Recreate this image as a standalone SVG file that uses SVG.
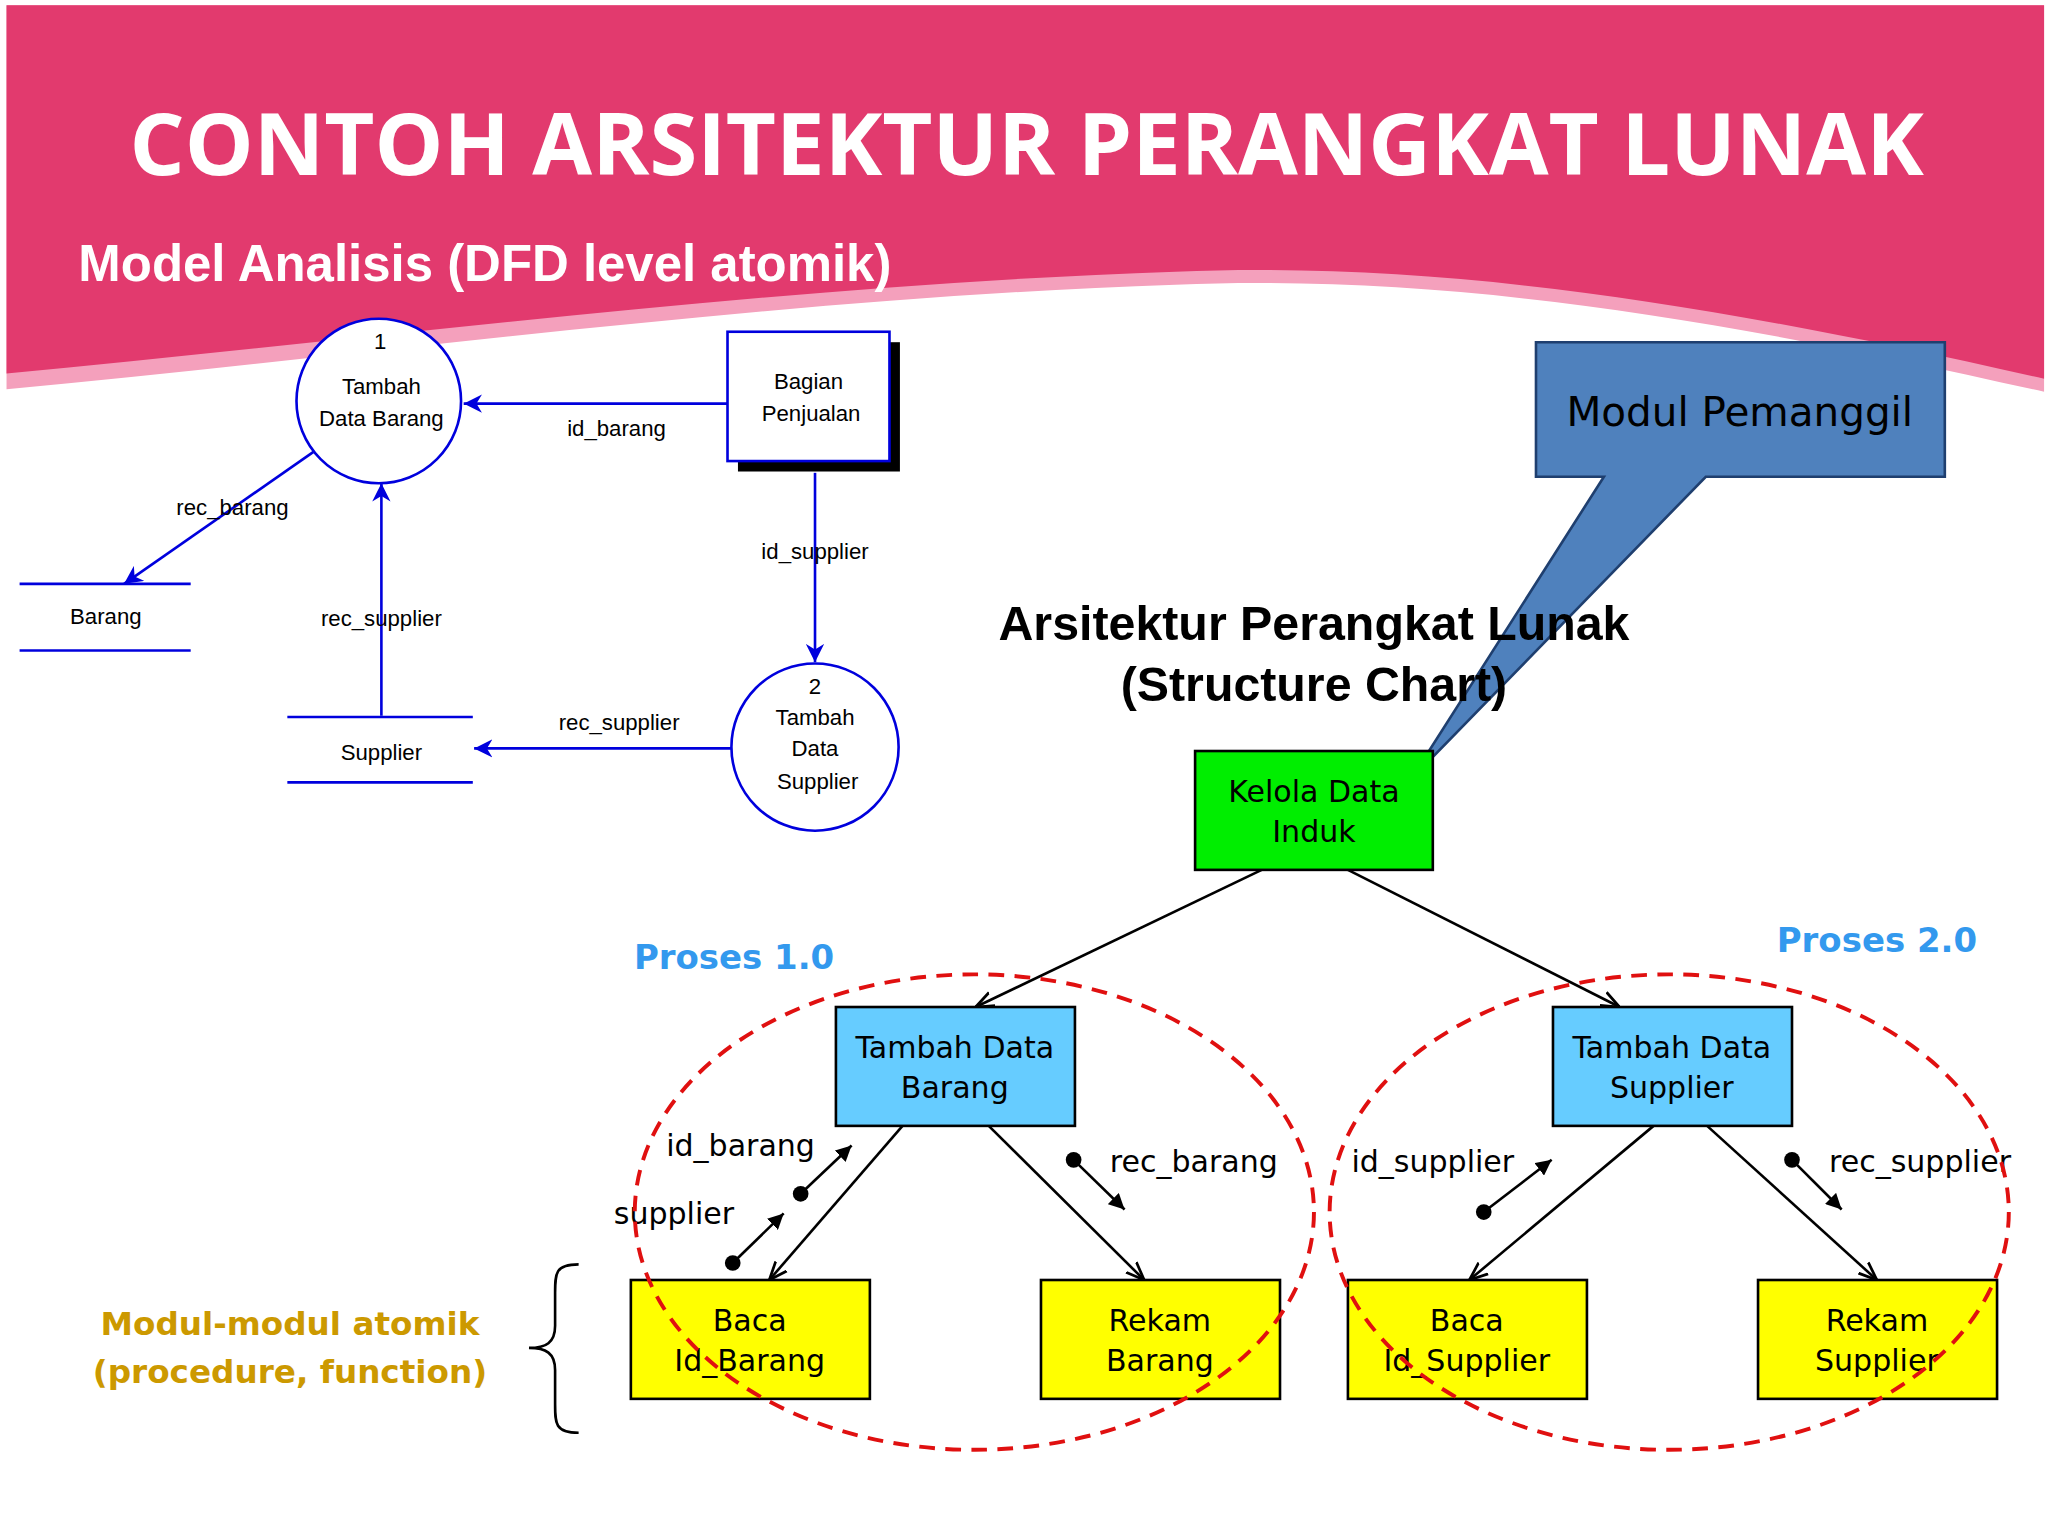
<svg xmlns="http://www.w3.org/2000/svg" width="2048" height="1536" viewBox="0 0 2048 1536">
<defs>
<style>
.dfd{fill:none;stroke:#0000DD;stroke-width:2}
.dt{font-family:"Liberation Sans",Arial,sans-serif;font-size:17px;text-anchor:middle;fill:#000}
.box{stroke:#000;stroke-width:2}
.bt{font-family:"DejaVu Sans",sans-serif;font-size:23px;text-anchor:middle;fill:#000}
.ln{stroke:#000;stroke-width:2;fill:none}
.lbl{font-family:"DejaVu Sans",sans-serif;font-size:23px;fill:#000}
</style>
<marker id="ab" viewBox="0 0 10 10" refX="10" refY="5" markerWidth="14" markerHeight="14" markerUnits="userSpaceOnUse" orient="auto"><path d="M0,0 L10,5 L0,10 L3,5z" fill="#0000DD"/></marker>
<marker id="ao" viewBox="0 0 10 10" refX="10" refY="5" markerWidth="14" markerHeight="14" markerUnits="userSpaceOnUse" orient="auto"><path d="M0,1 L10,5 L0,9" fill="none" stroke="#000" stroke-width="1.5"/></marker>
<marker id="af" viewBox="0 0 10 10" refX="10" refY="5" markerWidth="12" markerHeight="12" markerUnits="userSpaceOnUse" orient="auto"><path d="M0,0 L10,5 L0,10z" fill="#000"/></marker>
</defs>
<rect width="2048" height="1536" fill="#fff"/>
<g transform="scale(1.30612)">
<g id="header">
<path d="M5,4 H1565 V300 C1300,240 1100,210 900,218 C600,228 300,270 5,298 Z" fill="#F4A0BC"/>
<path d="M5,4 H1565 V290 C1300,230 1100,200 900,208 C600,218 300,258 5,286 Z" fill="#E23A6E"/>
<text x="786" y="134" font-family="'Open Sans','DejaVu Sans',sans-serif" font-weight="bold" font-size="66.4" fill="#fff" text-anchor="middle">CONTOH ARSITEKTUR PERANGKAT LUNAK</text>
<text x="60" y="215" font-family="'Liberation Sans',Arial,sans-serif" font-weight="bold" font-size="39" fill="#fff">Model Analisis (DFD level atomik)</text>
</g>
<g id="dfd-connectors">
<line class="dfd" x1="557" y1="309" x2="355" y2="309" marker-end="url(#ab)"/>
<line class="dfd" x1="624" y1="362" x2="624" y2="507" marker-end="url(#ab)"/>
<line class="dfd" x1="560" y1="573" x2="363" y2="573" marker-end="url(#ab)"/>
<line class="dfd" x1="292" y1="548" x2="292" y2="370" marker-end="url(#ab)"/>
<line class="dfd" x1="240" y1="346" x2="95" y2="447" marker-end="url(#ab)"/>
<text class="dt" x="472" y="334">id_barang</text>
<text class="dt" x="624" y="428">id_supplier</text>
<text class="dt" x="474" y="559">rec_supplier</text>
<text class="dt" x="292" y="479">rec_supplier</text>
<text class="dt" x="178" y="394">rec_barang</text>
</g>
<g id="p1"><circle class="dfd" cx="290" cy="307" r="63" style="fill:#fff"/>
<text class="dt" x="291" y="267">1</text><text class="dt" x="292" y="302">Tambah</text><text class="dt" x="292" y="326">Data Barang</text></g>
<g id="bagian"><rect x="565" y="262" width="124" height="99" fill="#000"/><rect class="dfd" x="557" y="254" width="124" height="99" style="fill:#fff"/>
<text class="dt" x="619" y="298">Bagian</text><text class="dt" x="621" y="322">Penjualan</text></g>
<g id="p2"><circle class="dfd" cx="624" cy="572" r="64" style="fill:#fff"/>
<text class="dt" x="624" y="531">2</text><text class="dt" x="624" y="555">Tambah</text><text class="dt" x="624" y="579">Data</text><text class="dt" x="626" y="604">Supplier</text></g>
<g id="supplier-store"><line class="dfd" x1="220" y1="549" x2="362" y2="549"/><line class="dfd" x1="220" y1="599" x2="362" y2="599"/><text class="dt" x="292" y="582">Supplier</text></g>
<g id="barang-store"><line class="dfd" x1="15" y1="447" x2="146" y2="447"/><line class="dfd" x1="15" y1="498" x2="146" y2="498"/><text class="dt" x="81" y="478">Barang</text></g>

<g id="callout"><path d="M1176,262 H1489 V365 H1306 L1080,597 L1228,365 H1176 Z" fill="#4F81BD" stroke="#1F3F6F" stroke-width="2"/>
<text x="1332" y="326" font-family="'DejaVu Sans',sans-serif" font-size="31" text-anchor="middle">Modul Pemanggil</text></g>
<g id="sc-title"><text x="1006" y="490" font-family="'Liberation Sans',Arial,sans-serif" font-weight="bold" font-size="37" text-anchor="middle">Arsitektur Perangkat Lunak</text>
<text x="1006" y="537" font-family="'Liberation Sans',Arial,sans-serif" font-weight="bold" font-size="37" text-anchor="middle">(Structure Chart)</text></g>

<g id="sc-connectors">
<line class="ln" x1="966" y1="666" x2="747" y2="771" marker-end="url(#ao)"/>
<line class="ln" x1="1032" y1="666" x2="1240" y2="771" marker-end="url(#ao)"/>
<line class="ln" x1="691" y1="862" x2="589" y2="980" marker-end="url(#ao)"/>
<line class="ln" x1="757" y1="862" x2="876" y2="980" marker-end="url(#ao)"/>
<line class="ln" x1="1266" y1="862" x2="1125" y2="980" marker-end="url(#ao)"/>
<line class="ln" x1="1307" y1="862" x2="1437" y2="980" marker-end="url(#ao)"/>
<circle cx="613" cy="914" r="6"/><line class="ln" x1="613" y1="914" x2="652" y2="877" marker-end="url(#af)"/>
<circle cx="561" cy="967" r="6"/><line class="ln" x1="561" y1="967" x2="600" y2="929" marker-end="url(#af)"/>
<circle cx="822" cy="888" r="6"/><line class="ln" x1="822" y1="888" x2="861" y2="926" marker-end="url(#af)"/>
<circle cx="1136" cy="928" r="6"/><line class="ln" x1="1136" y1="928" x2="1188" y2="888" marker-end="url(#af)"/>
<circle cx="1372" cy="888" r="6"/><line class="ln" x1="1372" y1="888" x2="1410" y2="926" marker-end="url(#af)"/>
<text class="lbl" x="567" y="885" text-anchor="middle">id_barang</text>
<text class="lbl" x="516" y="937" text-anchor="middle">supplier</text>
<text class="lbl" x="914" y="897" text-anchor="middle">rec_barang</text>
<text class="lbl" x="1097" y="897" text-anchor="middle">id_supplier</text>
<text class="lbl" x="1470" y="897" text-anchor="middle">rec_supplier</text>
</g>
<g id="kelola"><rect class="box" x="915" y="575" width="182" height="91" fill="#00EE00"/><text class="bt" x="1006" y="614">Kelola Data</text><text class="bt" x="1006" y="645">Induk</text></g>
<g id="tdb"><rect class="box" x="640" y="771" width="183" height="91" fill="#66CCFF"/><text class="bt" x="731" y="810">Tambah Data</text><text class="bt" x="731" y="841">Barang</text></g>
<g id="tds"><rect class="box" x="1189" y="771" width="183" height="91" fill="#66CCFF"/><text class="bt" x="1280" y="810">Tambah Data</text><text class="bt" x="1280" y="841">Supplier</text></g>
<g id="bib"><rect class="box" x="483" y="980" width="183" height="91" fill="#FFFF00"/><text class="bt" x="574" y="1019">Baca</text><text class="bt" x="574" y="1050">Id_Barang</text></g>
<g id="rb"><rect class="box" x="797" y="980" width="183" height="91" fill="#FFFF00"/><text class="bt" x="888" y="1019">Rekam</text><text class="bt" x="888" y="1050">Barang</text></g>
<g id="bis"><rect class="box" x="1032" y="980" width="183" height="91" fill="#FFFF00"/><text class="bt" x="1123" y="1019">Baca</text><text class="bt" x="1123" y="1050">Id_Supplier</text></g>
<g id="rs"><rect class="box" x="1346" y="980" width="183" height="91" fill="#FFFF00"/><text class="bt" x="1437" y="1019">Rekam</text><text class="bt" x="1437" y="1050">Supplier</text></g>
<g id="groups">
<ellipse cx="746" cy="928" rx="260" ry="182" fill="none" stroke="#E01010" stroke-width="3" stroke-dasharray="12,8"/>
<ellipse cx="1278" cy="928" rx="260" ry="182" fill="none" stroke="#E01010" stroke-width="3" stroke-dasharray="12,8"/>
<text x="562" y="742" font-family="'DejaVu Sans',sans-serif" font-weight="bold" font-size="26" fill="#3399EE" text-anchor="middle">Proses 1.0</text>
<text x="1437" y="729" font-family="'DejaVu Sans',sans-serif" font-weight="bold" font-size="26" fill="#3399EE" text-anchor="middle">Proses 2.0</text>
</g>
<g id="atomik">
<text x="222" y="1022" font-family="'DejaVu Sans',sans-serif" font-weight="bold" font-size="25" fill="#CC9900" text-anchor="middle">Modul-modul atomik</text>
<text x="222" y="1059" font-family="'DejaVu Sans',sans-serif" font-weight="bold" font-size="25" fill="#CC9900" text-anchor="middle">(procedure, function)</text>
<path d="M443,968 C425,968 425,975 425,990 V1015 C425,1028 418,1032 405,1032 C418,1032 425,1036 425,1049 V1075 C425,1090 425,1097 443,1097" fill="none" stroke="#000" stroke-width="2"/>
</g>
</g>
</svg>
